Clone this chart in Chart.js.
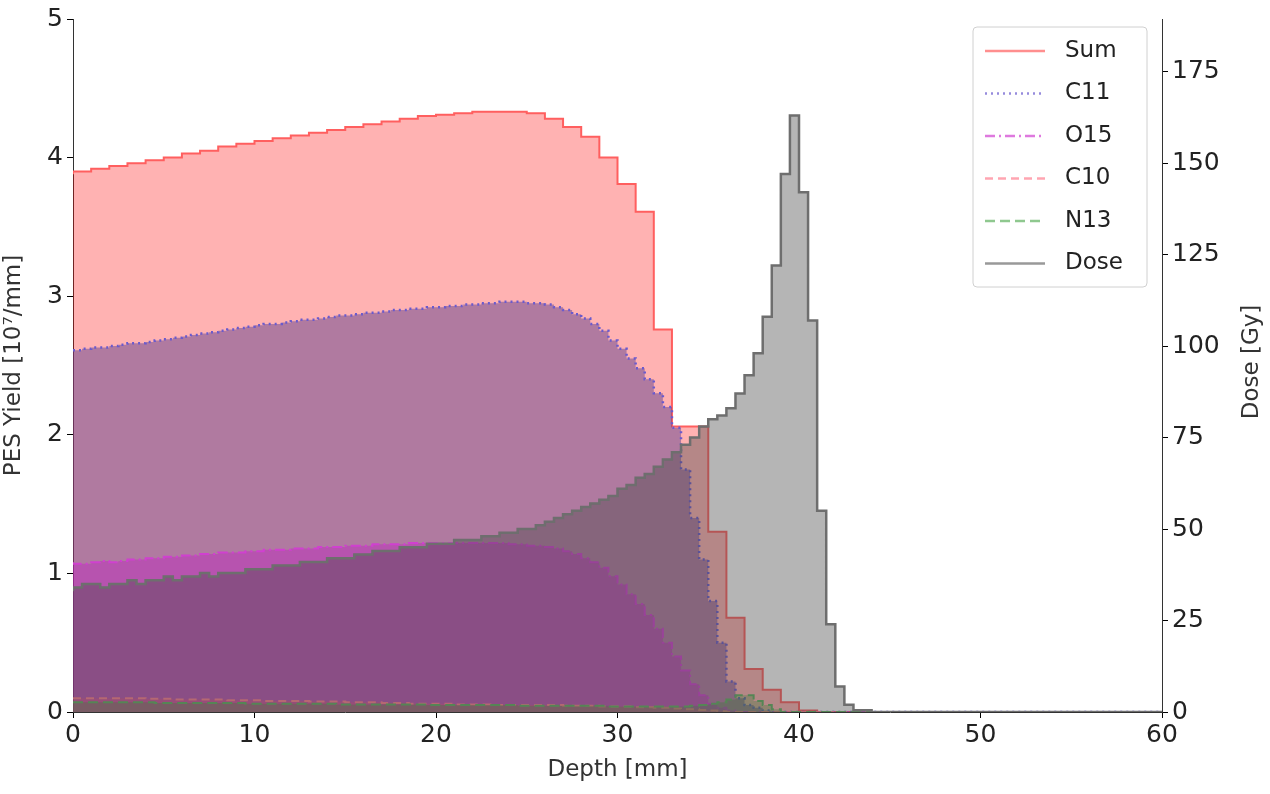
<!DOCTYPE html>
<html><head><meta charset="utf-8">
<script src="https://cdn.jsdelivr.net/npm/chart.js@4/dist/chart.umd.min.js"></script>
<style>html,body{margin:0;padding:0;background:#fff}#w{width:1270px;height:794px}</style>
</head><body><div id="w"><canvas id="c"></canvas></div>
<script>
const xTicks = [0,10,20,30,40,50,60];
const doseTicks = [0,25,50,75,100,125,150,175];
const sumBins1mm = [3.88,3.9,3.92,3.94,3.96,3.98,4.0,4.03,4.05,4.08,4.1,4.12,4.14,4.16,4.18,4.2,4.22,4.24,4.26,4.28,4.3,4.31,4.32,4.33,4.33,4.33,4.32,4.28,4.22,4.15,4.0,3.81,3.61,2.76,2.06,2.06,1.3,0.68,0.31,0.16,0.07,0.01,0,0,0];
const c11Bins = [2.61,2.61,2.62,2.63,2.63,2.64,2.65,2.66,2.66,2.67,
2.68,2.69,2.70,2.71,2.72,2.73,2.74,2.75,2.76,2.77,
2.78,2.79,2.80,2.80,2.81,2.82,2.83,2.83,2.84,2.85,
2.86,2.86,2.87,2.88,2.88,2.89,2.90,2.90,2.91,2.91,
2.92,2.92,2.93,2.93,2.94,2.94,2.95,2.95,2.96,2.96,
2.96,2.95,2.95,2.94,2.92,2.90,2.87,2.84,2.80,2.75,
2.68,2.62,2.55,2.48,2.40,2.30,2.20,2.05,1.75,1.40,
1.10,0.80,0.50,0.22,0.10,0.05,0.03,0.01,0,0];
const o15Bins = [1.08,1.07,1.07,1.08,1.09,1.08,1.09,1.10,1.10,1.11,
1.11,1.12,1.12,1.13,1.13,1.14,1.14,1.15,1.15,1.15,
1.16,1.16,1.17,1.17,1.17,1.18,1.18,1.18,1.19,1.19,
1.19,1.20,1.20,1.20,1.21,1.21,1.21,1.21,1.22,1.22,
1.22,1.22,1.22,1.22,1.22,1.22,1.22,1.22,1.22,1.21,
1.21,1.20,1.20,1.19,1.18,1.16,1.14,1.11,1.08,1.04,
0.98,0.92,0.85,0.78,0.70,0.60,0.50,0.40,0.30,0.20,
0.12,0.06,0.03,0.01,0,0];
const c10Bins = [0.10,0.10,0.10,0.10,0.10,0.10,0.10,0.10,0.10,0.095,
0.095,0.095,0.09,0.09,0.09,0.09,0.09,0.09,0.085,0.085,
0.085,0.085,0.08,0.08,0.08,0.08,0.08,0.075,0.075,0.075,
0.075,0.07,0.07,0.07,0.07,0.065,0.065,0.065,0.06,0.06,
0.06,0.06,0.06,0.055,0.055,0.055,0.055,0.05,0.05,0.05,
0.05,0.05,0.05,0.05,0.05,0.045,0.045,0.045,0.045,0.04,
0.04,0.04,0.04,0.035,0.035,0.03,0.03,0.025,0.02,0.02,
0.015,0.01,0.005,0,0];
const n13Bins = [0.07,0.07,0.07,0.07,0.07,0.07,0.07,0.07,0.07,0.07,
0.065,0.065,0.065,0.065,0.065,0.065,0.065,0.065,0.065,0.065,
0.06,0.06,0.06,0.06,0.06,0.06,0.06,0.06,0.06,0.06,
0.055,0.055,0.055,0.055,0.055,0.055,0.055,0.055,0.055,0.055,
0.05,0.05,0.05,0.05,0.05,0.05,0.05,0.05,0.05,0.05,
0.045,0.045,0.045,0.045,0.045,0.045,0.045,0.045,0.045,0.045,
0.04,0.04,0.04,0.04,0.04,0.04,0.04,0.04,0.04,0.045,
0.05,0.06,0.07,0.09,0.12,0.12,0.08,0.05,0.02,0];
const doseBins = [33,34,35,35,34,35,35,36,35,36,
36,37,36,37,37,38,37,38,38,38,
39,39,39,40,40,40,41,41,41,42,
42,42,43,43,44,44,44,45,45,45,
46,46,46,47,47,47,48,48,49,49,
50,50,51,52,53,54,55,56,57,58,
59,61,62,64,65,67,69,71,73,75,
78,80,81,83,87,92,98,108,122,147,
163,142,107,55,24,7,2,0.5,0.5,0];

function pts(bins, w){
  const p = bins.map((v,i)=>({x:i*w, y:v}));
  p.push({x:bins.length*w, y:0});
  p.push({x:60, y:0});
  return p;
}
function ds(label, data, border, fill, dash, width, axis, order){
  return {label, data, borderColor:border, backgroundColor:fill, borderDash:dash, borderWidth:width,
    fill:'origin', stepped:'after', pointRadius:0, yAxisID:axis, order};
}
const datasets = [
  ds('Sum', pts(sumBins1mm,1), '#ff5f5f', 'rgba(255,0,0,0.3)', [], 2, 'y', 6),
  ds('C11', pts(c11Bins,0.5), '#6a5acd', 'rgba(97,65,141,0.5)', [2,4], 2.5, 'y', 5),
  ds('O15', pts(o15Bins,0.5), '#d040d0', 'rgba(192,36,192,0.45)', [10,4,2,4], 2, 'y', 4),
  ds('C10', pts(c10Bins,0.5), '#ff7f90', 'rgba(255,80,110,0.3)', [8,5], 2, 'y', 3),
  ds('N13', pts(n13Bins,0.5), '#60b060', 'rgba(40,160,40,0.3)', [10,5], 2, 'y', 2),
  ds('Dose', pts(doseBins,0.5), '#6e6e6e', 'rgba(70,70,70,0.4)', [], 2.5, 'y2', 1),
];

const legendPlugin = {
  id:'lg',
  afterDraw(chart){
    const ctx = chart.ctx;
    const x0=973, y0=27, w=174, h=260;
    ctx.save();
    ctx.fillStyle='rgba(255,255,255,0.85)';
    ctx.strokeStyle='#d0d0d0'; ctx.lineWidth=1;
    ctx.beginPath(); ctx.roundRect(x0,y0,w,h,4); ctx.fill(); ctx.stroke();
    ctx.font='23px "DejaVu Sans"'; ctx.textBaseline='middle';
    chart.data.datasets.forEach((d,i)=>{
      const y = 51 + i*42.5;
      ctx.globalAlpha=0.7;
      ctx.strokeStyle=d.borderColor; ctx.lineWidth=2.5; ctx.setLineDash(d.borderDash);
      ctx.beginPath(); ctx.moveTo(985,y); ctx.lineTo(1045,y); ctx.stroke();
      ctx.globalAlpha=1;
      ctx.setLineDash([]); ctx.fillStyle='#222'; ctx.fillText(d.label,1065,y);
    });
    // right axis title, reading bottom to top
    ctx.translate(1252, 362); ctx.rotate(-Math.PI/2);
    ctx.textAlign='center'; ctx.font='23px "DejaVu Sans"'; ctx.fillStyle='#333';
    ctx.fillText('Dose [Gy]', 0, 0);
    ctx.restore();
  }
};
const tickFont = {family:'DejaVu Sans', size:25};
new Chart(document.getElementById('c'), {
  type:'line',
  data:{datasets},
  options:{
    responsive:true, maintainAspectRatio:false, animation:false,
    layout:{padding:{top:12,left:0,right:0,bottom:0}},
    plugins:{legend:{display:false}, tooltip:{enabled:false}},
    scales:{
      x:{type:'linear', min:0, max:60, afterBuildTicks:s=>{s.ticks=xTicks.map(v=>({value:v}));},
        afterFit:s=>{s.height=82;},
        grid:{drawOnChartArea:false, tickLength:6, color:'#000'}, border:{color:'#333'},
        ticks:{font:tickFont, color:'#222', padding:2},
        title:{display:true, text:'Depth [mm]', font:{family:'DejaVu Sans', size:23}, color:'#333', padding:{top:0,bottom:10}}},
      y:{position:'left', min:0, max:5, afterFit:s=>{s.width=73;},
        ticks:{stepSize:1, font:tickFont, color:'#222', padding:4},
        grid:{drawOnChartArea:false, tickLength:6, color:'#000'}, border:{color:'#333'},
        title:{display:true, text:'PES Yield [10⁷/mm]', font:{family:'DejaVu Sans', size:23}, color:'#333', padding:0}},
      y2:{position:'right', min:0, max:189.35, afterFit:s=>{s.width=108;},
        afterBuildTicks:s=>{s.ticks=doseTicks.map(v=>({value:v}));},
        ticks:{font:tickFont, color:'#222', padding:4},
        grid:{drawOnChartArea:false, tickLength:6, color:'#000'}, border:{color:'#333'},
        title:{display:false}}
    }
  },
  plugins:[legendPlugin]
});
</script></body></html>
